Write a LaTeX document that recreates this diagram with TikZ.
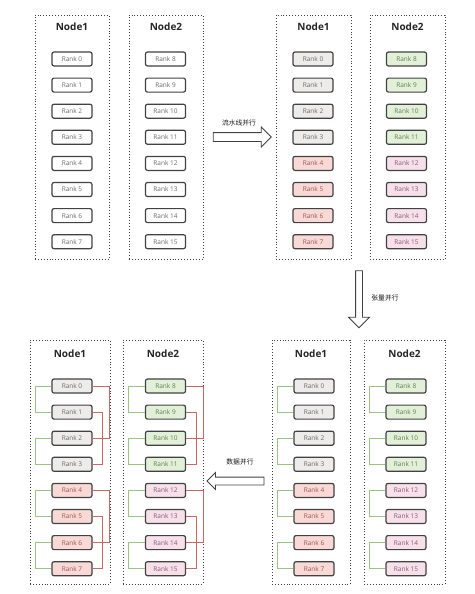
\documentclass[tikz,border=0pt]{standalone}
\usepackage{fontspec}
\setmainfont{Open Sans}
\newfontfamily\cjk{Noto Sans CJK SC}
\usetikzlibrary{shapes.arrows}

\definecolor{edge}{HTML}{424242}
\definecolor{fillgray}{HTML}{EEEBEB}
\definecolor{textgray}{HTML}{6A6A6A}
\definecolor{fillred}{HTML}{F8D9D5}
\definecolor{textred}{HTML}{A2554F}
\definecolor{fillgreen}{HTML}{E2F0D8}
\definecolor{textgreen}{HTML}{5F7F50}
\definecolor{fillpink}{HTML}{F7E0EA}
\definecolor{textpink}{HTML}{875A70}
\definecolor{dpgreen}{HTML}{9CC384}
\definecolor{tpred}{HTML}{C86868}

\begin{document}
\begin{tikzpicture}
  [x=1pt,y=-1pt,
   hostbox/.style={draw=edge,dotted,line width=0.9pt,minimum height=244pt},
   hosttitle/.style={font=\fontsize{10}{12}\selectfont\bfseries,text=black!85},
   rank/.style={draw=edge,rounded corners=2pt,line width=1.2pt,fill=white,text=textgray,
     minimum width=40pt,minimum height=14pt,inner sep=0pt,font=\fontsize{6.5}{7}\selectfont},
   bigarrow/.style={single arrow,draw=edge,line width=0.8pt,fill=white,inner sep=0pt,
     text depth=0pt,single arrow head indent=0pt},
   arrowtext/.style={font=\cjk\fontsize{6.8}{7}\selectfont,text=black!90},
   dpline/.style={draw=dpgreen,line width=0.9pt},
   tpline/.style={draw=tpred,line width=0.9pt}]
  \useasboundingbox (0,0) rectangle (474,594);

  % host boxes
  \node[hostbox,minimum width=74pt] (a1box) at (72,137) {};
  \node[hostbox,minimum width=74pt] (a2box) at (166,137) {};
  \node[hostbox,minimum width=75pt] (b1box) at (313.5,137) {};
  \node[hostbox,minimum width=75pt] (b2box) at (407.5,137) {};
  \node[hostbox,minimum width=80pt] (c1box) at (70,462) {};
  \node[hostbox,minimum width=80pt] (c2box) at (163,462) {};
  \node[hostbox,minimum width=78pt] (d1box) at (311,462) {};
  \node[hostbox,minimum width=81pt] (d2box) at (404.5,462) {};

  \foreach \p/\xa/\xb/\yt in {a/72/166/27, b/313.5/407.5/27, c/70/163/354, d/311/404.5/354} {
    \node[hosttitle] (\p1title) at (\xa,\yt) {Node1};
    \node[hosttitle] (\p2title) at (\xb,\yt) {Node2};
  }

  % ranks, plain
  \foreach \i in {0,...,7} {
    \pgfmathtruncatemacro\j{\i+8}
    \node[rank] (a\i) at (72,{59+26.1*\i}) {Rank \i};
    \node[rank] (a\j) at (165.5,{59+26.1*\i}) {Rank \j};
  }

  % ranks, coloured
  \foreach \p/\xa/\xb/\yt in {b/313/406.5/59, c/72/165.5/386, d/314/406/386} {
    \foreach \i in {0,...,7} {
      \pgfmathtruncatemacro\j{\i+8}
      \ifnum\i<4 \def\ca{gray}\def\cb{green}\else\def\ca{red}\def\cb{pink}\fi
      \node[rank,fill=fill\ca,text=text\ca] (\p\i) at (\xa,{\yt+26.1*\i}) {Rank \i};
      \node[rank,fill=fill\cb,text=text\cb] (\p\j) at (\xb,{\yt+26.1*\i}) {Rank \j};
    }
  }

  % data parallel groups
  \foreach \p in {c,d}
    \foreach \from/\to in {0/1, 2/3, 4/5, 6/7, 8/9, 10/11, 12/13, 14/15}
      \draw[dpline] (\p\from.west) -- ++(-16,0) |- (\p\to.west);

  % tensor parallel groups
  \foreach \from/\to/\s in {0/2/17, 4/6/17, 8/10/17, 12/14/17, 1/3/10, 5/7/10, 9/11/10, 13/15/10}
    \draw[tpline] (c\from.east) -- ++(\s,0) |- (c\to.east);

  % arrows
  \node[bigarrow,minimum height=58pt,text height=8pt,single arrow head extend=5.5pt] (pp) at (240,137) {};
  \node[arrowtext] (pptext) at (239,123) {流水线并行};
  \node[bigarrow,minimum height=57pt,text height=6pt,single arrow head extend=7pt,rotate=-90] (tp) at (359,297.5) {};
  \node[arrowtext] (tptext) at (385,298) {张量并行};
  \node[bigarrow,minimum height=57pt,text height=7pt,single arrow head extend=4.5pt,rotate=180] (dp) at (237.5,481) {};
  \node[arrowtext] (dptext) at (240,462) {数据并行};
\end{tikzpicture}
\end{document}
